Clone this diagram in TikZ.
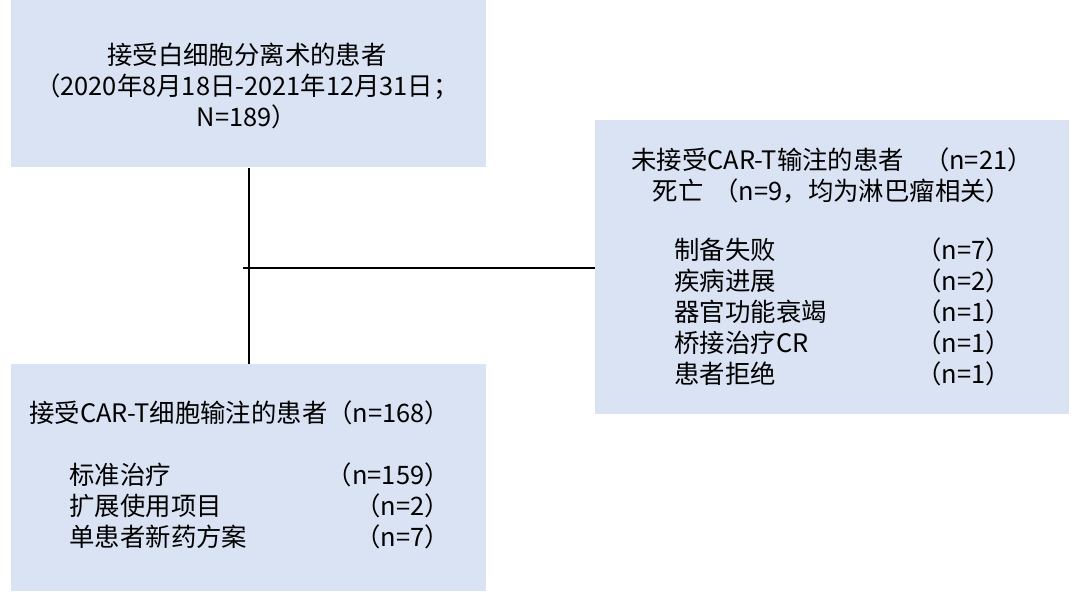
\documentclass[tikz,border=0pt]{standalone}
\usepackage{fontspec}
\setmainfont{Noto Sans CJK SC}
\usetikzlibrary{positioning}
\definecolor{boxblue}{HTML}{DAE3F3}
\tikzset{
  panel/.style={fill=boxblue, anchor=north west, inner sep=0pt},
  txt/.style={inner sep=0pt, font=\fontsize{12.7}{15.5}\selectfont},
  item/.style={txt, text height=0.88em, text depth=0.12em},
  link/.style={line width=1pt}
}

\begin{document}
\begin{tikzpicture}[x=0.5pt, y=-0.5pt]
  \useasboundingbox (0,0) rectangle (1080,591);

  % boxes
  \node[panel, minimum width=237.5pt, minimum height=83.5pt] (topbox) at (11,0) {};
  \node[panel, minimum width=237pt, minimum height=147pt] (nobox) at (595,120) {};
  \node[panel, minimum width=237.5pt, minimum height=113.5pt] (yesbox) at (11,364) {};

  % connectors
  \draw[link] (topbox.south) -- (yesbox.north);
  \coordinate (stub) at (243,268);
  \draw[link] (stub) -- (stub -| nobox.west);

  % top box
  \node[txt, align=center] (toptext) at (247,86)
    {接受白细胞分离术的患者\\（2020年8月18日-2021年12月31日；\\N=189）};

  % not infused
  \node[txt, align=center] (nohead) at (832,175)
    {未接受CAR-T输注的患者\hspace{10pt}（n=21）\\死亡\hspace{5pt}（n=9，均为淋巴瘤相关）};
  \foreach \lbl/\cnt [count=\i] in {制备失败/7, 疾病进展/2, 器官功能衰竭/1, 桥接治疗CR/1, 患者拒绝/1} {
    \node[item, anchor=west] (nolbl\i) at (674,221+31*\i) {\lbl};
    \node[item, anchor=east] (nocnt\i) at (1011,221+31*\i) {（n=\cnt）};
  }

  % infused
  \node[item, anchor=west] (yeshead) at (29,415) {接受CAR-T细胞输注的患者（n=168）};
  \foreach \lbl/\cnt [count=\i] in {标准治疗/159, 扩展使用项目/2, 单患者新药方案/7} {
    \node[item, anchor=west] (yeslbl\i) at (69,446+31*\i) {\lbl};
    \node[item, anchor=east] (yescnt\i) at (450,446+31*\i) {（n=\cnt）};
  }
\end{tikzpicture}
\end{document}
